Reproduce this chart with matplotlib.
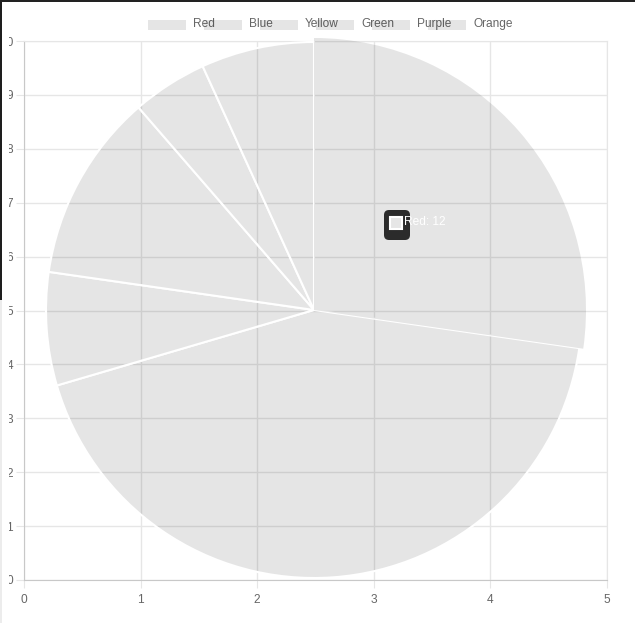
import matplotlib
matplotlib.use("Agg")
from matplotlib import pyplot as plt
from matplotlib.patches import FancyBboxPatch, Rectangle

# data
labels = ['Red', 'Blue', 'Yellow', 'Green', 'Purple', 'Orange']
values = [12, 19, 3, 5, 2, 3]
x_ticks = [0, 1, 2, 3, 4, 5]
y_ticks = [0, 1, 2, 3, 4, 5, 6, 7, 8, 9, 10]

W, H = 635, 623
plt.rcParams['font.family'] = ['Liberation Sans', 'DejaVu Sans']
grid_col = '#e6e6e6'
slice_col = (0, 0, 0, 0.1)
txt_col = '#666666'

fig = plt.figure(figsize=(W / 100, H / 100), dpi=100)
fig.patch.set_facecolor('white')

# background axes (x 0..5, y 0..10)
left, right, top, bottom = 24, 607, 41, 580
ax = fig.add_axes([left / W, (H - bottom) / H, (right - left) / W, (bottom - top) / H])
ax.set_xlim(0, 5)
ax.set_ylim(0, 10)
ax.set_xticks(x_ticks)
ax.set_yticks(y_ticks)
ax.grid(True, color=grid_col, lw=1)
ax.set_axisbelow(True)
for s in ax.spines.values():
    s.set_color(grid_col)
ax.spines['left'].set_color('#c8c8c8')
ax.spines['bottom'].set_color('#c8c8c8')
ax.tick_params(axis='both', length=5.8, color=grid_col, labelcolor=txt_col, labelsize=8.6)
ax.tick_params(axis='x', pad=4)
ax.tick_params(axis='y', pad=2)

# overlay in pixel coords
ov = fig.add_axes([0, 0, 1, 1])
ov.patch.set_alpha(0)

cx, cy, r = 314, 310, 268
wedges, _ = ov.pie(values, startangle=90, counterclock=False, radius=r,
                   center=(cx, H - cy), colors=[slice_col] * len(values),
                   wedgeprops=dict(edgecolor='white', linewidth=1.5))
# hovered slice, drawn last
wedges[0].set_radius(r + 4)
wedges[0].set_edgecolor('none')
wedges[0].set_zorder(2)

ov.set_xlim(0, W)
ov.set_ylim(0, H)
ov.set_aspect('auto')
ov.axis('off')

# legend
for i, lab in enumerate(labels):
    bx = 148 + 56 * i
    ov.text(bx + 45, H - 24, lab, color=txt_col, fontsize=8.6, va='center', ha='left', zorder=3)
    ov.add_patch(Rectangle((bx, H - 30), 38, 10, facecolor=slice_col, edgecolor='none', zorder=4))

# tooltip
ov.add_patch(FancyBboxPatch((384, H - 240), 26, 30, boxstyle='round,pad=0,rounding_size=5',
                            facecolor='#2b2b2b', edgecolor='none', zorder=5))
ov.add_patch(Rectangle((390, H - 229), 12, 12, facecolor='#e6e6e6', edgecolor='white', lw=1.5, zorder=6))
ov.text(404, H - 222, f'{labels[0]}: {values[0]}', color='white', fontsize=8.6,
        va='center', ha='left', zorder=6)

# clipping of y labels and frame edges
ov.add_patch(Rectangle((0, 0), 9, H, facecolor='white', edgecolor='none', zorder=7))
ov.add_patch(Rectangle((0, H - 300), 2, 300, facecolor='#1e1e1e', edgecolor='none', zorder=8))
ov.add_patch(Rectangle((0, 0), 2, H - 300, facecolor='#ececec', edgecolor='none', zorder=8))
ov.add_patch(Rectangle((0, H - 1.5), W, 1.5, facecolor='#222222', edgecolor='none', zorder=8))

plt.savefig('out.png', dpi=100)
